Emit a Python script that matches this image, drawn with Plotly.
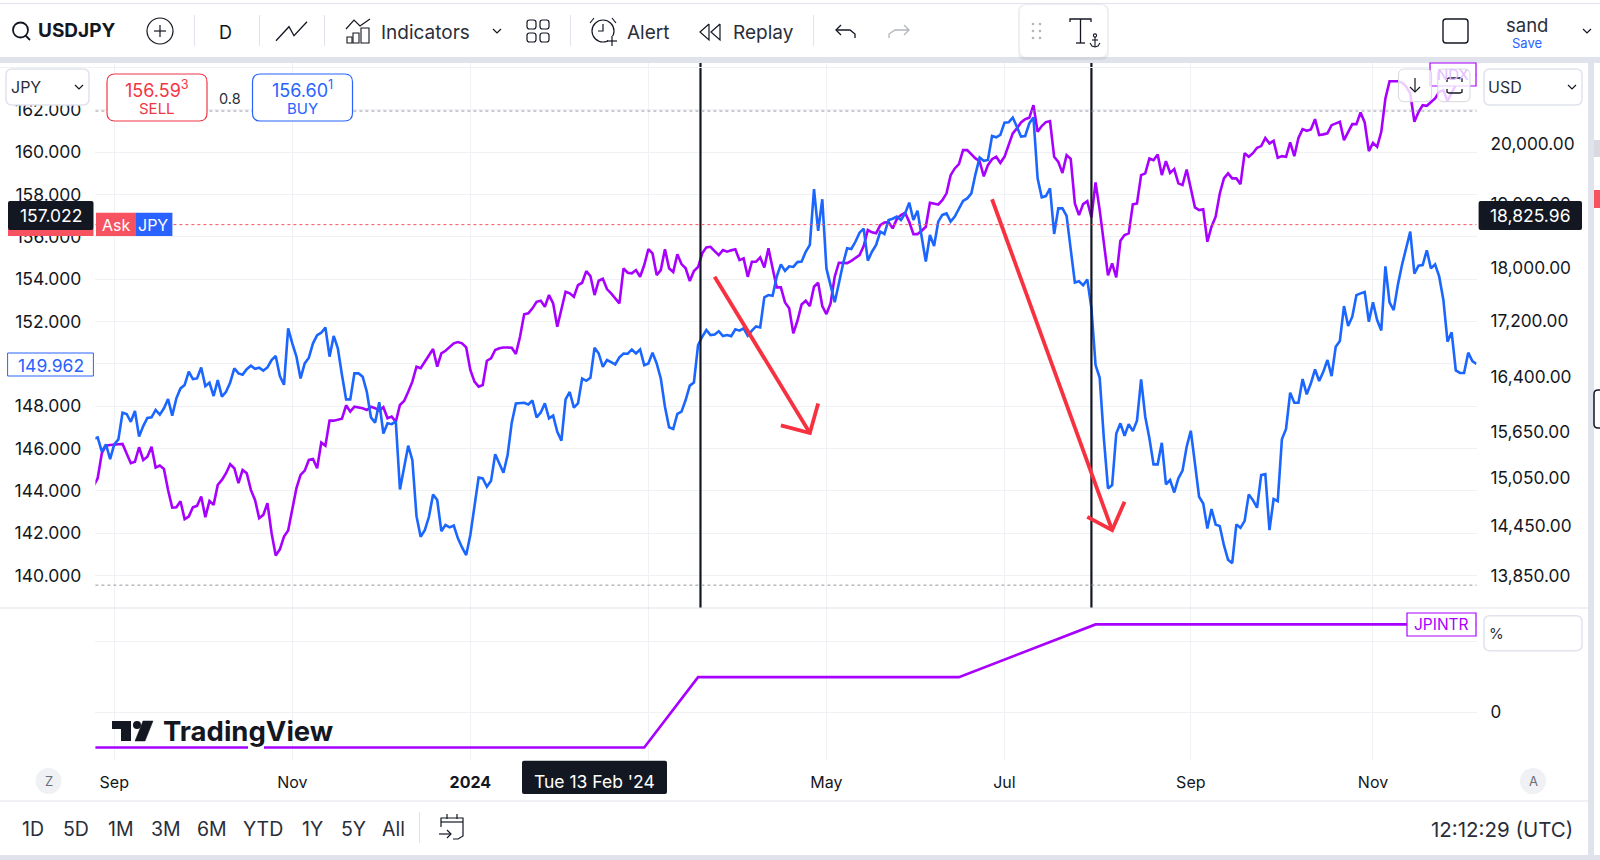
import pandas as pd
import plotly.graph_objects as go

W, H = 1600, 860

# sessions: every weekday, 1 Jan closed
sessions = pd.bdate_range("2023-08-25", "2024-12-06").drop(pd.Timestamp("2024-01-01"))

usdjpy = [
    146.46, 146.52, 145.85, 146.19, 145.50,
    146.19, 146.43, 147.69, 147.63, 147.26, 147.77, 146.56, 147.06, 147.44, 147.47,
    147.82, 147.60, 147.90, 148.34, 147.55, 148.37, 148.84, 149.00, 149.63, 149.28,
    149.31, 149.83, 148.95, 149.11, 148.48, 149.23, 148.45, 148.68, 149.12, 149.79,
    149.55, 149.49, 149.75, 149.91, 149.77, 149.82, 149.68, 149.83, 150.18, 150.37,
    149.42, 149.01, 151.68, 150.97, 150.34, 149.31, 150.02, 150.29, 150.97, 151.36,
    151.47, 151.72, 150.34, 151.32, 150.73, 149.47, 148.32, 148.32, 149.55, 149.55,
    149.39, 148.68, 147.47, 147.22, 148.19, 146.71, 147.19, 147.15, 147.28, 144.06,
    145.14, 146.13, 145.45, 142.80, 141.83, 142.14, 142.77, 143.83, 143.56, 142.09,
    142.38, 142.27, 142.36, 141.75, 141.32, 140.96, 141.91, 143.40, 144.62, 144.58,
    144.19, 144.47, 145.73, 145.29, 144.85, 145.69, 147.22, 148.13, 148.13, 148.16,
    148.08, 148.27, 147.47, 147.70, 148.13, 147.42, 147.55, 146.79, 146.37, 148.32,
    148.67, 147.93, 148.13, 149.31, 149.20, 149.34, 150.76, 150.49, 149.86, 150.18,
    150.08, 149.97, 150.31, 150.49, 150.48, 150.68, 150.49, 150.68, 149.94, 150.02,
    150.53, 150.02, 149.31, 147.97, 147.00, 146.92, 147.63, 147.74, 148.29, 148.97,
    149.12, 150.89, 151.28, 151.60, 151.36, 151.39, 151.54, 151.31, 151.36, 151.31,
    151.63, 151.57, 151.68, 151.33, 151.57, 151.77, 151.72, 153.14, 153.25, 153.22,
    154.12, 154.70, 154.39, 154.61, 154.58, 154.81, 154.83, 155.30, 155.62, 158.26,
    156.29, 157.78, 154.51, 153.73, 152.91, 153.80, 154.72, 155.46, 155.43, 155.77,
    156.20, 156.39, 154.88, 155.30, 155.62, 156.25, 156.14, 156.80, 156.86, 156.96,
    156.80, 157.11, 157.62, 156.80, 157.24, 156.01, 154.83, 156.09, 155.57, 156.72,
    157.04, 157.11, 156.72, 156.96, 157.35, 157.70, 157.82, 158.06, 158.97, 159.75,
    159.60, 159.64, 160.77, 160.71, 160.82, 161.40, 161.42, 161.64, 161.21, 160.74,
    160.77, 161.37, 161.65, 158.77, 157.87, 157.93, 158.30, 156.14, 157.35, 157.35,
    156.99, 155.38, 153.84, 153.90, 153.71, 153.99, 152.62, 149.94, 149.34, 146.48,
    144.11, 144.27, 146.71, 147.19, 146.60, 147.15, 146.82, 147.31, 149.27, 147.50,
    146.48, 145.25, 145.25, 146.27, 144.30, 144.51, 143.92, 144.59, 144.95, 146.08,
    146.84, 145.29, 143.72, 143.40, 142.22, 143.14, 142.41, 142.33, 141.43, 140.74,
    140.58, 142.41, 142.25, 142.58, 143.83, 143.56, 143.20, 144.74, 144.79, 142.14,
    143.61, 143.51, 146.43, 146.92, 148.64, 148.16, 148.16, 149.28, 148.56, 149.08,
    149.74, 149.19, 149.63, 150.18, 149.42, 150.81, 151.08, 152.73, 151.79, 152.23,
    153.25, 153.33, 153.40, 151.99, 152.91, 152.07, 151.58, 154.61, 152.91, 152.54,
    153.73, 154.67, 155.46, 156.25, 154.26, 154.64, 154.67, 155.37, 154.51, 154.70,
    154.12, 153.02, 151.05, 151.49, 149.69, 149.57, 149.57, 150.53, 150.13, 149.99,
]

ndx = [
    14953, 15051, 15374, 15473, 15482,
    15492, 15492, 15496, 15364, 15244, 15264, 15452, 15286, 15329, 15460,
    15187, 15213, 15170, 14902, 14680, 14685, 14760, 14537, 14569, 14685,
    14702, 14818, 14561, 14764, 14714, 14966, 15029, 15115, 15231, 15179,
    14987, 15157, 15115, 14902, 14776, 14549, 14590, 14735, 14365, 14095,
    14169, 14324, 14397, 14661, 14924, 15093, 15148, 15286, 15299, 15179,
    15513, 15473, 15805, 15805, 15818, 15832, 16013, 15927, 15994, 15986,
    15973, 15950, 15994, 15973, 15941, 15986, 15837, 15859, 15791, 16017,
    16071, 16199, 16337, 16546, 16524, 16616, 16711, 16796, 16546, 16735,
    16772, 16829, 16878, 16896, 16878, 16819, 16500, 16337, 16268, 16291,
    16630, 16664, 16782, 16806, 16819, 16819, 16814, 16725, 16973, 17298,
    17313, 17387, 17484, 17499, 17410, 17584, 17460, 17117, 17361, 17634,
    17610, 17559, 17734, 17769, 17946, 17870, 17584, 17799, 17829, 17674,
    17610, 17534, 17460, 17988, 17921, 17911, 17961, 17860, 18038, 18283,
    18218, 17885, 17961, 18283, 17988, 17931, 18203, 18053, 17988, 17794,
    17946, 18007, 18218, 18311, 18320, 18253, 18191, 18269, 18243, 18264,
    18280, 18114, 18140, 17859, 18088, 18088, 18156, 18002, 18295, 17988,
    17699, 17699, 17475, 17387, 17021, 17204, 17445, 17499, 17420, 17709,
    17769, 17420, 17302, 17460, 17860, 18073, 18073, 18068, 18103, 18150,
    18191, 18330, 18582, 18546, 18530, 18660, 18703, 18708, 18608, 18755,
    18819, 18856, 18712, 18518, 18518, 18571, 18634, 19017, 19007, 18990,
    19060, 19170, 19469, 19580, 19652, 19887, 19887, 19819, 19747, 19701,
    19450, 19635, 19735, 19774, 19673, 19774, 19972, 20171, 20257, 20360,
    20417, 20440, 20661, 20199, 20298, 20366, 20383, 19774, 19690, 19505,
    19802, 19740, 19007, 18819, 18996, 19044, 18782, 19349, 18899, 18424,
    17881, 18064, 17850, 18413, 18503, 18530, 18991, 19007, 19470, 19498,
    19747, 19718, 19813, 19470, 19701, 19505, 19568, 19333, 19305, 19563,
    19252, 18943, 18899, 18911, 18398, 18634, 18793, 19169, 19415, 19498,
    19415, 19415, 19321, 19835, 19774, 19835, 19926, 19955, 20095, 20000,
    20044, 19757, 19786, 19774, 20017, 19786, 20095, 20245, 20216, 20240,
    20417, 20142, 20155, 20172, 20313, 20343, 20371, 20056, 20199, 20331,
    20331, 20534, 20360, 19870, 20010, 19942, 20199, 20779, 21085, 21090,
    21085, 21060, 20990, 20870, 20371, 20540, 20661, 20650, 20720, 20780,
    20895, 20925, 20735, 20870, 21020, 21080, 21140, 21150, 21185, 21200,
]

jpintr_dates = ["2023-08-25", "2024-02-29", "2024-03-19", "2024-06-14", "2024-07-31", "2024-12-06"]
jpintr = [-0.1, -0.1, 0.1, 0.1, 0.25, 0.25]

vline_dates = ["2024-03-19 14:00", "2024-07-30"]

arrow1_dates = ["2024-03-25", "2024-04-25", None, "2024-04-16", "2024-04-25", "2024-04-29"]
arrow1_prices = [154.12, 146.73, None, 147.09, 146.73, 148.13]
arrow2_dates = ["2024-06-26", "2024-08-06", None, "2024-07-29", "2024-08-06", "2024-08-09"]
arrow2_prices = [157.78, 142.14, None, 142.77, 142.14, 143.48]

time_ticks = ["2023-09-01", "2023-11-01", "2024-01-02", "2024-03-01",
              "2024-05-01", "2024-07-01", "2024-09-02", "2024-11-01"]
time_labels = ["Sep", "Nov", "<b>2024</b>", "", "May", "Jul", "Sep", "Nov"]
jpy_ticks = [140, 142, 144, 146, 148, 150, 152, 154, 156, 158, 160, 162]
ndx_ticks = [13850, 14450, 15050, 15650, 16400, 17200, 18000, 19000, 20000]

assert len(sessions) == len(usdjpy) == len(ndx)

FONT = "Inter"
INK = "#131722"
LINE = "#E0E3EB"
GRID = "#EFF1F5"
PURPLE = "#A800FF"
BLUE = "#1A66FF"
TV_BLUE = "#2962FF"
RED = "#F7313F"
TAG_RED = "#F7525F"


def px(x):
    return x / W


def py(y):
    return 1 - y / H


shapes = []
notes = []


def rect(x0, y0, x1, y1, fill=None, line=None, width=1, opacity=1):
    shapes.append(dict(type="rect", xref="paper", yref="paper", x0=px(x0), x1=px(x1), y0=py(y0), y1=py(y1),
                       fillcolor=fill or "rgba(0,0,0,0)", opacity=opacity,
                       line=dict(color=line or "rgba(0,0,0,0)", width=width if line else 0)))


def box(x0, y0, x1, y1, r=6, fill=None, line=None, width=1, opacity=1):
    # rounded rectangle
    p = (f"M {px(x0 + r)} {py(y0)} L {px(x1 - r)} {py(y0)} Q {px(x1)} {py(y0)} {px(x1)} {py(y0 + r)} "
         f"L {px(x1)} {py(y1 - r)} Q {px(x1)} {py(y1)} {px(x1 - r)} {py(y1)} "
         f"L {px(x0 + r)} {py(y1)} Q {px(x0)} {py(y1)} {px(x0)} {py(y1 - r)} "
         f"L {px(x0)} {py(y0 + r)} Q {px(x0)} {py(y0)} {px(x0 + r)} {py(y0)} Z")
    shapes.append(dict(type="path", xref="paper", yref="paper", path=p, opacity=opacity,
                       fillcolor=fill or "rgba(0,0,0,0)",
                       line=dict(color=line or "rgba(0,0,0,0)", width=width if line else 0)))


def poly(points, color=INK, width=1.3, fill=None, close=False):
    p = "M " + " L ".join(f"{px(x)} {py(y)}" for x, y in points)
    if close:
        p += " Z"
    shapes.append(dict(type="path", xref="paper", yref="paper", path=p,
                       fillcolor=fill or "rgba(0,0,0,0)",
                       line=dict(color=color, width=width)))


def circle(cx, cy, r, fill=None, line=None, width=1.3):
    shapes.append(dict(type="circle", xref="paper", yref="paper",
                       x0=px(cx - r), x1=px(cx + r), y0=py(cy - r), y1=py(cy + r),
                       fillcolor=fill or "rgba(0,0,0,0)",
                       line=dict(color=line or "rgba(0,0,0,0)", width=width if line else 0)))


def text(x, y, s, size=16, color=INK, anchor="center", family=FONT):
    notes.append(dict(xref="paper", yref="paper", x=px(x), y=py(y), text=s, showarrow=False,
                      xanchor=anchor, yanchor="middle", align=anchor,
                      font=dict(family=family, size=size, color=color)))


def chevron(x, y, color=INK):
    poly([(x - 4, y - 2), (x, y + 2), (x + 4, y - 2)], color=color, width=1.2)


# price lines, tied to the left price scale, under the buttons and tags
for price, color in [(161.95, "#9598A1"), (139.54, "#9598A1"), (156.58, TAG_RED)]:
    shapes.append(dict(type="line", xref="paper", yref="y2", x0=px(95.4), x1=px(1476.5), y0=price, y1=price,
                       line=dict(color=color, width=1, dash="dot")))

# page bands
rect(0, 3, 1600, 4, fill=LINE)
rect(0, 57, 1600, 63, fill=LINE)
rect(1588, 63, 1594, 855, fill=LINE)
rect(0, 855, 1600, 860, fill=LINE)
rect(0, 67, 1476, 68, fill=GRID)
rect(0, 607.5, 1588, 608.5, fill=LINE)
rect(0, 800.5, 1588, 801.5, fill=LINE)
rect(1594, 140, 1600, 157, fill="#D8DAE0")
rect(1594, 190, 1600, 208, fill=TAG_RED)
box(1594, 390, 1606, 428, r=4, fill="#FFFFFF", line=INK, width=1.5)

# top toolbar
circle(20.5, 30, 7.5, line=INK, width=1.8)
poly([(25.5, 35.5), (30, 40)], width=1.8)
text(36, 31, "<b>USDJPY</b>", size=19, anchor="left")
circle(160, 31, 13, line=INK, width=1.2)
poly([(154, 31), (166, 31)], width=1.2)
poly([(160, 25), (160, 37)], width=1.2)
for x in [194, 259, 324, 570, 813]:
    rect(x, 15, x + 1, 46, fill=LINE)
text(226, 32, "D", size=18)
poly([(276, 40.7), (289, 26.7), (294, 35.7), (307, 21.7)], width=1.3)
poly([(346, 29), (354, 20), (360, 26), (370, 19)], width=1.2)
rect(347, 37, 352, 43, line=INK, width=1.1)
rect(353, 33, 359, 43, line=INK, width=1.1)
rect(361, 28, 369, 43, line=INK, width=1.1)
text(379, 32, "Indicators", size=19, color="#2A2E39", anchor="left")
chevron(497, 31)
for x0, y0 in [(527, 20), (540, 20), (527, 33), (540, 33)]:
    box(x0, y0, x0 + 9, y0 + 9, r=2.5, line=INK, width=1.2)
circle(603, 31, 11, line=INK, width=1.2)
poly([(603, 24), (603, 31), (598, 31)], width=1.2)
poly([(590, 23), (594, 18)], width=1.2)
poly([(612, 18), (616, 23)], width=1.2)
rect(608, 36, 618, 46, fill="#FFFFFF")
poly([(607, 41), (617, 41)], width=1.2)
poly([(612, 36), (612, 46)], width=1.2)
text(625, 32, "Alert", size=19, color="#2A2E39", anchor="left")
poly([(709, 24), (700, 32), (709, 40), (709, 24)], width=1.2)
poly([(720, 24), (711, 32), (720, 40), (720, 24)], width=1.2)
text(731, 32, "Replay", size=19, color="#2A2E39", anchor="left")
poly([(841, 25), (836, 30), (841, 35)], width=1.3)
poly([(836, 30), (850, 30), (855, 34), (855, 38)], width=1.3)
poly([(904, 25), (909, 30), (904, 35)], color="#B2B5BE", width=1.3)
poly([(909, 30), (895, 30), (889, 34), (889, 38)], color="#B2B5BE", width=1.3)

# floating drawing tool card
box(1018, 4, 1109, 60, r=8, fill="rgba(19,23,34,0.07)")
box(1020, 5, 1107, 57, r=7, fill="#FFFFFF")
for x in [1033, 1040]:
    for y in [24, 31, 38]:
        circle(x, y, 1.3, fill="#B2B5BE")
# thin T with anchor icon
poly([(1070, 22), (1070, 19), (1091, 19), (1091, 22)], width=1.3)
poly([(1080.5, 19), (1080.5, 43)], width=1.3)
poly([(1076, 43), (1085, 43)], width=1.3)
circle(1095, 35.5, 1.6, line=INK, width=1.1)
poly([(1095, 37), (1095, 47)], width=1.1)
poly([(1092, 40), (1098, 40)], width=1.1)
poly([(1090, 43), (1092, 46), (1095, 47), (1098, 46), (1100, 43)], width=1.1)

box(1443, 19, 1468, 43, r=3, line=INK, width=1.4)
text(1527, 25, "sand", size=18.5, color="#2A2E39")
text(1527, 43, "Save", size=13, color=TV_BLUE)
chevron(1587, 31)

# white mask for the watermark descender
rect(248, 744, 264, 750, fill="#FFFFFF")

# price selectors and trade buttons
box(6, 69, 89, 105, fill="#FFFFFF", line=LINE, width=1.5)
text(9, 87, "JPY", size=16, color="#2A2E39", anchor="left")
chevron(79, 87)
box(107, 74, 207, 121, r=8, fill="#FFFFFF", line="#F23645", width=1.2)
text(157, 89, "156.59<sup>3</sup>", size=18, color="#F23645")
text(157, 109, "SELL", size=15, color="#F23645")
text(230, 98, "0.8", size=14.5, color="#2A2E39")
box(252.5, 74, 352.5, 121, r=8, fill="#FFFFFF", line=TV_BLUE, width=1.2)
text(302.5, 89, "156.60<sup>1</sup>", size=18, color=TV_BLUE)
text(302.5, 109, "BUY", size=15, color=TV_BLUE)

# price tags
rect(8, 229, 93.5, 236, fill=TAG_RED)
box(8, 201, 93.5, 230, r=2, fill=INK)
text(50.5, 215.5, "157.022", size=17.5, color="#FFFFFF")
rect(96, 212.7, 136, 236, fill=TAG_RED)
rect(136, 212.7, 172.4, 236, fill=TV_BLUE)
text(116, 225, "Ask", size=16, color="#FFFFFF")
text(153, 225, "JPY", size=16, color="#FFFFFF")
rect(7.6, 353, 93.4, 376, fill="#FFFFFF", line=TV_BLUE, width=1)
text(50.5, 365, "149.962", size=17.5, color=TV_BLUE)

rect(1430, 63, 1476, 86, fill="#FFFFFF", line=PURPLE, width=1.2)
text(1453, 74, "NDX", size=15, color="#E3BDFF")
box(1398.5, 69, 1431.6, 101.7, fill="rgba(255,255,255,0.8)", line="#D6D8DE", width=1)
box(1437.8, 69, 1470, 101.7, fill="rgba(255,255,255,0.8)", line="#D6D8DE", width=1)
poly([(1415, 78), (1415, 92)], width=1.2)
poly([(1410, 87), (1415, 92), (1420, 87)], width=1.2)
poly([(1447, 82), (1447, 79), (1449, 78), (1460, 78), (1462, 79), (1462, 82)], width=1.3)
poly([(1447, 89), (1447, 92), (1449, 93), (1460, 93), (1462, 92), (1462, 89)], width=1.3)

box(1484, 69, 1582, 105, fill="#FFFFFF", line=LINE, width=1.5)
text(1486, 87, "USD", size=16, color="#2A2E39", anchor="left")
chevron(1572, 87)
box(1478.6, 201, 1582, 230, r=2, fill=INK)
text(1530, 215.5, "18,825.96", size=17.5, color="#FFFFFF")

# lower pane
rect(1407, 613, 1476, 636, fill="#FFFFFF", line=PURPLE, width=1.2)
text(1441.5, 624.5, "JPINTR", size=15.5, color=PURPLE)
box(1484, 615.7, 1582, 650.7, fill="#FFFFFF", line=LINE, width=1.5)
text(1487, 633, "%", size=15, color="#2A2E39", anchor="left")

# watermark
rect(112, 721, 131, 729, fill=INK)
rect(121, 721, 131, 741, fill=INK)
circle(137, 725, 4, fill=INK)
poly([(143, 721), (153, 721), (145, 741), (135, 741)], color=INK, width=0.5, fill=INK, close=True)
text(161, 731, "<b>TradingView</b>", size=27.5, anchor="left")

# time scale extras
circle(48.5, 781, 13, fill=GRID)
text(48.5, 781, "Z", size=13, color="#6A6D78")
circle(1533, 781, 13, fill=GRID)
text(1533, 781, "A", size=13, color="#6A6D78")
box(522, 760.7, 667, 794, r=2, fill=INK)
text(594.5, 781, "Tue 13 Feb '24", size=17.5, color="#FFFFFF")

# bottom bar
for x, label in [(33, "1D"), (75.5, "5D"), (121, "1M"), (166, "3M"), (212, "6M"),
                 (263, "YTD"), (312, "1Y"), (353, "5Y"), (393, "All")]:
    text(x, 829, label, size=19.5, color="#2A2E39")
rect(419, 812, 420, 843, fill=LINE)
poly([(441, 827), (441, 818), (463, 818), (463, 836), (458, 839), (453, 839)], width=1.2)
poly([(441, 822), (463, 822)], width=1.2)
poly([(447, 814), (447, 819)], width=1.2)
poly([(457, 814), (457, 819)], width=1.2)
poly([(439, 834), (451, 834)], width=1.2)
poly([(447, 830), (451, 834), (447, 838)], width=1.2)
text(1575, 829, "12:12:29 (UTC)", size=20.5, color="#2A2E39", anchor="right")

fig = go.Figure()
fig.add_trace(go.Scatter(x=sessions, y=ndx, mode="lines", name="NDX", xaxis="x", yaxis="y",
                         line=dict(color=PURPLE, width=2.6)))
fig.add_trace(go.Scatter(x=sessions, y=usdjpy, mode="lines", name="USDJPY", xaxis="x", yaxis="y2",
                         line=dict(color=BLUE, width=2.6)))
for d in vline_dates:
    fig.add_trace(go.Scatter(x=[d, d], y=[138.46, 164.22], mode="lines", xaxis="x", yaxis="y2",
                             line=dict(color=INK, width=2.2)))
fig.add_trace(go.Scatter(x=arrow1_dates, y=arrow1_prices, mode="lines", xaxis="x", yaxis="y2",
                         line=dict(color=RED, width=3.8)))
fig.add_trace(go.Scatter(x=arrow2_dates, y=arrow2_prices, mode="lines", xaxis="x", yaxis="y2",
                         line=dict(color=RED, width=3.8)))
fig.add_trace(go.Scatter(x=jpintr_dates, y=jpintr, mode="lines", name="JPINTR", xaxis="x2", yaxis="y3",
                         line=dict(color=PURPLE, width=2.6)))

breaks = [dict(bounds=["sat", "mon"]), dict(values=["2024-01-01"])]
xrange = ["2023-08-25 10:48", "2024-12-06"]
xdomain = [px(95.4), px(1476.5)]

fig.update_layout(
    width=W, height=H, autosize=False, showlegend=False, hovermode=False,
    margin=dict(l=0, r=0, t=0, b=0, pad=0),
    paper_bgcolor="#FFFFFF", plot_bgcolor="rgba(0,0,0,0)",
    font=dict(family=FONT, color=INK, size=16),
    shapes=shapes, annotations=notes,
    xaxis=dict(domain=xdomain, anchor="y", type="date", range=xrange, rangebreaks=breaks,
               tickmode="array", tickvals=time_ticks, ticktext=time_labels, showticklabels=False,
               showgrid=True, gridcolor=GRID, gridwidth=1, zeroline=False, ticks=""),
    xaxis2=dict(domain=xdomain, anchor="y3", type="date", range=xrange, rangebreaks=breaks,
                tickmode="array", tickvals=time_ticks, ticktext=time_labels,
                showgrid=True, gridcolor=GRID, gridwidth=1, zeroline=False, ticks="",
                ticklabelstandoff=11, tickfont=dict(size=16, color=INK)),
    yaxis=dict(domain=[py(608), py(63)], anchor="x", side="right", type="log", range=[4.1297, 4.3307],
               tickmode="array", tickvals=ndx_ticks, ticktext=[f"{v:,.2f}" for v in ndx_ticks],
               showgrid=False, zeroline=False, ticks="", ticklabelstandoff=13,
               tickfont=dict(size=17.3, color=INK)),
    yaxis2=dict(overlaying="y", anchor="x", side="left", range=[138.46, 164.22],
                tickmode="array", tickvals=jpy_ticks, ticktext=[f"{v:.3f}" for v in jpy_ticks],
                showgrid=True, gridcolor=GRID, gridwidth=1, zeroline=False, ticks="", ticklabelstandoff=13,
                tickfont=dict(size=17.5, color=INK)),
    yaxis3=dict(domain=[py(760), py(608)], anchor="x2", side="right", range=[-0.1357, 0.2967],
                tickmode="array", tickvals=[0, 0.2], ticktext=["0", ""],
                showgrid=True, gridcolor=GRID, gridwidth=1, zeroline=False, ticks="", ticklabelstandoff=13,
                tickfont=dict(size=17, color=INK)),
)

fig.write_html("out.html", config=dict(displayModeBar=False),
               post_script="document.body.style.margin='0';")
